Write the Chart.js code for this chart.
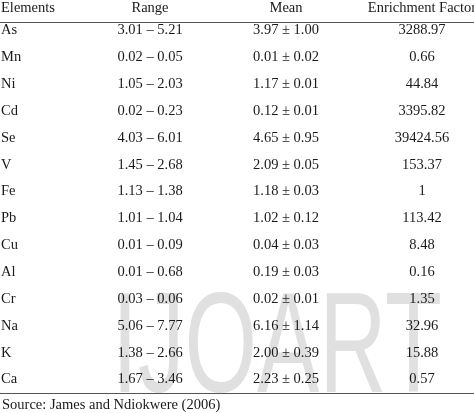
<!DOCTYPE html>
<html lang="en">
<head>
<meta charset="UTF-8">
<title>Elements table</title>
<script src="https://cdn.jsdelivr.net/npm/chart.js"></script>
<style>
    body { margin: 0; background: #fff; }
    #wrap { width: 474px; height: 413px; }
</style>
</head>
<body>
<div id="wrap"><canvas id="tbl"></canvas></div>
<script>
    // table data
    const headers = ['Elements', 'Range', 'Mean', 'Enrichment Factor'];
    const elements = ['As', 'Mn', 'Ni', 'Cd', 'Se', 'V', 'Fe', 'Pb', 'Cu', 'Al', 'Cr', 'Na', 'K', 'Ca'];
    const ranges = ['3.01 – 5.21', '0.02 – 0.05', '1.05 – 2.03', '0.02 – 0.23', '4.03 – 6.01', '1.45 – 2.68', '1.13 – 1.38',
        '1.01 – 1.04', '0.01 – 0.09', '0.01 – 0.68', '0.03 – 0.06', '5.06 – 7.77', '1.38 – 2.66', '1.67 – 3.46'];
    const means = ['3.97 ± 1.00', '0.01 ± 0.02', '1.17 ± 0.01', '0.12 ± 0.01', '4.65 ± 0.95', '2.09 ± 0.05', '1.18 ± 0.03',
        '1.02 ± 0.12', '0.04 ± 0.03', '0.19 ± 0.03', '0.02 ± 0.01', '6.16 ± 1.14', '2.00 ± 0.39', '2.23 ± 0.25'];
    const factors = ['3288.97', '0.66', '44.84', '3395.82', '39424.56', '153.37', '1', '113.42', '8.48', '0.16', '1.35',
        '32.96', '15.88', '0.57'];
    const source = 'Source: James and Ndiokwere (2006)';
    const watermark = 'IJOART';

    const FONT = '14.5px "Liberation Serif", "Times New Roman", serif';
    const columns = [ranges, means, factors];

    function cellData(col) {
        return elements.map((el, i) => ({ x: col + 1, y: el, t: columns[col][i] }));
    }

    const tablePlugin = {
        id: 'tablePlugin',
        beforeDatasetsDraw(chart) {
            const { ctx, chartArea, scales } = chart;
            ctx.save();
            // watermark
            ctx.font = '140px "Liberation Sans", Arial, sans-serif';
            const w = ctx.measureText(watermark).width;
            ctx.fillStyle = '#e0e0e0';
            ctx.translate(112, 392);
            ctx.scale(330 / w, 1.02);
            ctx.textBaseline = 'alphabetic';
            ctx.fillText(watermark, 0, 0);
            ctx.restore();

            ctx.save();
            ctx.strokeStyle = '#555';
            ctx.lineWidth = 1;
            ctx.beginPath();
            ctx.moveTo(0, chartArea.top + 5.5); ctx.lineTo(474, chartArea.top + 5.5);
            ctx.moveTo(0, chartArea.bottom + 0.5); ctx.lineTo(474, chartArea.bottom + 0.5);
            ctx.stroke();

            ctx.font = FONT;
            ctx.fillStyle = '#1a1a1a';
            ctx.textBaseline = 'middle';
            ctx.textAlign = 'left';
            ctx.fillText(headers[0], 1, 8);
            elements.forEach((el, i) => ctx.fillText(el, 1, scales.y.getPixelForValue(i)));
            ctx.fillText(source, 2, 405);
            ctx.textAlign = 'center';
            for (let c = 1; c < headers.length; c++) {
                ctx.fillText(headers[c], scales.x.getPixelForValue(c), 8);
            }
            ctx.restore();
        },
        afterDatasetsDraw(chart) {
            const { ctx } = chart;
            ctx.save();
            ctx.font = FONT;
            ctx.fillStyle = '#1a1a1a';
            ctx.textAlign = 'center';
            ctx.textBaseline = 'middle';
            chart.data.datasets.forEach((ds, di) => {
                chart.getDatasetMeta(di).data.forEach((pt, i) => {
                    ctx.fillText(ds.data[i].t, pt.x, pt.y);
                });
            });
            ctx.restore();
        }
    };

    new Chart(document.getElementById('tbl'), {
        type: 'scatter',
        data: {
            datasets: [0, 1, 2].map(c => ({ data: cellData(c), pointRadius: 0, showLine: false }))
        },
        options: {
            responsive: true,
            maintainAspectRatio: false,
            animation: false,
            layout: { padding: { top: 17, bottom: 20, left: 0, right: 0 } },
            plugins: { legend: { display: false }, tooltip: { enabled: false } },
            scales: {
                x: { type: 'linear', min: 1 - 150 / 136, max: 1 + 324 / 136, display: false },
                y: { type: 'category', labels: elements, offset: true, display: false }
            }
        },
        plugins: [tablePlugin]
    });
</script>
</body>
</html>
